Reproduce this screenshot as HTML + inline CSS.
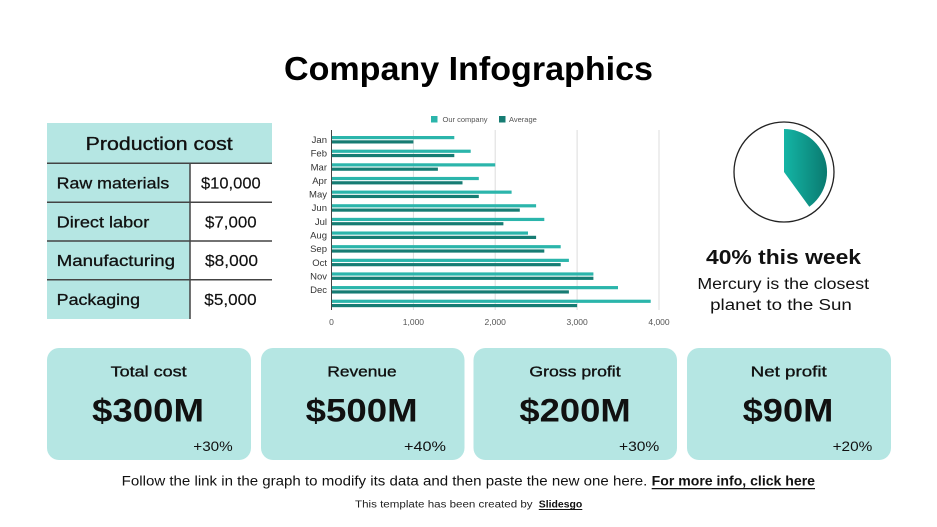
<!DOCTYPE html>
<html>
<head>
<meta charset="utf-8">
<style>
  html,body{margin:0;padding:0;background:#fff;}
  svg{display:block;}
  text{font-family:"Liberation Sans",Arial,sans-serif;}
</style>
</head>
<body>
<svg width="937" height="527" viewBox="0 0 937 527" xmlns="http://www.w3.org/2000/svg">
  <defs>
    <linearGradient id="pg" x1="0" y1="0" x2="1" y2="0">
      <stop offset="0" stop-color="#14b5a5"/>
      <stop offset="1" stop-color="#0a7a70"/>
    </linearGradient>
  </defs>
  <rect width="937" height="527" fill="#ffffff"/>

  <!-- Title -->
  <text x="284" y="80" font-size="33" font-weight="bold" fill="#000" textLength="369" lengthAdjust="spacingAndGlyphs">Company Infographics</text>

  <!-- Table -->
  <rect x="47" y="123" width="225" height="40" fill="#b5e6e3"/>
  <rect x="47" y="163" width="143" height="156" fill="#b5e6e3"/>
  <text x="159.2" y="150" font-size="18" text-anchor="middle" fill="#111" stroke="#111" stroke-width="0.35" textLength="147" lengthAdjust="spacingAndGlyphs">Production cost</text>
  <g stroke="#444" stroke-width="1.5">
    <line x1="47" y1="163.3" x2="272" y2="163.3"/>
    <line x1="47" y1="202.3" x2="272" y2="202.3"/>
    <line x1="47" y1="241" x2="272" y2="241"/>
    <line x1="47" y1="279.8" x2="272" y2="279.8"/>
    <line x1="190" y1="163" x2="190" y2="319"/>
  </g>
  <g font-size="16" fill="#111" stroke="#111" stroke-width="0.3">
    <text x="56.7" y="188.3" textLength="112.6" lengthAdjust="spacingAndGlyphs">Raw materials</text>
    <text x="56.7" y="227.3" textLength="92.6" lengthAdjust="spacingAndGlyphs">Direct labor</text>
    <text x="56.7" y="265.8" textLength="118.3" lengthAdjust="spacingAndGlyphs">Manufacturing</text>
    <text x="56.7" y="305" textLength="83.3" lengthAdjust="spacingAndGlyphs">Packaging</text>
  </g>
  <g font-size="16" fill="#111" stroke="#111" stroke-width="0.15">
    <text x="201" y="188.3" textLength="59.7" lengthAdjust="spacingAndGlyphs">$10,000</text>
    <text x="205" y="227.3" textLength="51.7" lengthAdjust="spacingAndGlyphs">$7,000</text>
    <text x="205" y="265.8" textLength="53" lengthAdjust="spacingAndGlyphs">$8,000</text>
    <text x="204.3" y="305" textLength="52.4" lengthAdjust="spacingAndGlyphs">$5,000</text>
  </g>

  <!-- Chart -->
  <rect x="431" y="116" width="6.5" height="6.5" fill="#2bb5ab"/>
  <text x="442.5" y="121.8" font-size="7.5" fill="#555">Our company</text>
  <rect x="499" y="116" width="6.5" height="6.5" fill="#167c73"/>
  <text x="509" y="121.8" font-size="7.5" fill="#555">Average</text>

  <g stroke="#dddddd" stroke-width="1">
    <line x1="413.4" y1="130" x2="413.4" y2="310"/>
    <line x1="495.2" y1="130" x2="495.2" y2="310"/>
    <line x1="577.1" y1="130" x2="577.1" y2="310"/>
    <line x1="659" y1="130" x2="659" y2="310"/>
  </g>

  <g fill="#2bb5ab">
    <rect x="331.5" y="136" width="122.8" height="3.2"/>
    <rect x="331.5" y="149.64" width="139.2" height="3.2"/>
    <rect x="331.5" y="163.28" width="163.7" height="3.2"/>
    <rect x="331.5" y="176.92" width="147.3" height="3.2"/>
    <rect x="331.5" y="190.56" width="180.1" height="3.2"/>
    <rect x="331.5" y="204.2" width="204.6" height="3.2"/>
    <rect x="331.5" y="217.84" width="212.8" height="3.2"/>
    <rect x="331.5" y="231.48" width="196.5" height="3.2"/>
    <rect x="331.5" y="245.12" width="229.2" height="3.2"/>
    <rect x="331.5" y="258.76" width="237.4" height="3.2"/>
    <rect x="331.5" y="272.4" width="261.9" height="3.2"/>
    <rect x="331.5" y="286.04" width="286.5" height="3.2"/>
    <rect x="331.5" y="299.68" width="319.2" height="3.2"/>
  </g>
  <g fill="#167c73">
    <rect x="331.5" y="140.3" width="81.9" height="3.2"/>
    <rect x="331.5" y="153.94" width="122.8" height="3.2"/>
    <rect x="331.5" y="167.58" width="106.4" height="3.2"/>
    <rect x="331.5" y="181.22" width="131.0" height="3.2"/>
    <rect x="331.5" y="194.86" width="147.3" height="3.2"/>
    <rect x="331.5" y="208.5" width="188.3" height="3.2"/>
    <rect x="331.5" y="222.14" width="171.9" height="3.2"/>
    <rect x="331.5" y="235.78" width="204.6" height="3.2"/>
    <rect x="331.5" y="249.42" width="212.8" height="3.2"/>
    <rect x="331.5" y="263.06" width="229.2" height="3.2"/>
    <rect x="331.5" y="276.7" width="261.9" height="3.2"/>
    <rect x="331.5" y="290.34" width="237.4" height="3.2"/>
    <rect x="331.5" y="303.98" width="245.6" height="3.2"/>
  </g>
  <line x1="331.5" y1="130" x2="331.5" y2="310" stroke="#444" stroke-width="1"/>

  <g font-size="9.5" fill="#333" text-anchor="end">
    <text x="327" y="143">Jan</text>
    <text x="327" y="156.64">Feb</text>
    <text x="327" y="170.28">Mar</text>
    <text x="327" y="183.92">Apr</text>
    <text x="327" y="197.56">May</text>
    <text x="327" y="211.2">Jun</text>
    <text x="327" y="224.84">Jul</text>
    <text x="327" y="238.48">Aug</text>
    <text x="327" y="252.12">Sep</text>
    <text x="327" y="265.76">Oct</text>
    <text x="327" y="279.4">Nov</text>
    <text x="327" y="293.04">Dec</text>
  </g>
  <g font-size="8.5" fill="#555" text-anchor="middle">
    <text x="331.5" y="325">0</text>
    <text x="413.4" y="325">1,000</text>
    <text x="495.2" y="325">2,000</text>
    <text x="577.1" y="325">3,000</text>
    <text x="659" y="325">4,000</text>
  </g>

  <!-- Pie -->
  <circle cx="784" cy="172" r="50" fill="#fff" stroke="#222" stroke-width="1.3"/>
  <path d="M784,172 L784,129 A43,43 0 0 1 809.3,206.8 Z" fill="url(#pg)"/>
  <text x="706" y="264" font-size="20" font-weight="bold" fill="#111" textLength="155" lengthAdjust="spacingAndGlyphs">40% this week</text>
  <text x="783.2" y="289" font-size="15.5" text-anchor="middle" fill="#111" textLength="171.7" lengthAdjust="spacingAndGlyphs">Mercury is the closest</text>
  <text x="781" y="310" font-size="15.5" text-anchor="middle" fill="#111" textLength="141.7" lengthAdjust="spacingAndGlyphs">planet to the Sun</text>

  <!-- Cards -->
  <g fill="#b5e6e3">
    <rect x="47" y="348" width="204" height="112" rx="12"/>
    <rect x="261" y="348" width="203.5" height="112" rx="12"/>
    <rect x="473.5" y="348" width="203.5" height="112" rx="12"/>
    <rect x="687" y="348" width="204" height="112" rx="12"/>
  </g>
  <g font-size="15" fill="#111" stroke="#111" stroke-width="0.35" text-anchor="middle">
    <text x="148.7" y="376.7" textLength="76" lengthAdjust="spacingAndGlyphs">Total cost</text>
    <text x="362" y="376.7" textLength="69.3" lengthAdjust="spacingAndGlyphs">Revenue</text>
    <text x="575" y="376.7" textLength="91.3" lengthAdjust="spacingAndGlyphs">Gross profit</text>
    <text x="788.7" y="376.7" textLength="76" lengthAdjust="spacingAndGlyphs">Net profit</text>
  </g>
  <g font-size="32" font-weight="bold" fill="#111" text-anchor="middle">
    <text x="148" y="421.7" textLength="112" lengthAdjust="spacingAndGlyphs">$300M</text>
    <text x="361.7" y="421.7" textLength="112" lengthAdjust="spacingAndGlyphs">$500M</text>
    <text x="575" y="421.7" textLength="111.3" lengthAdjust="spacingAndGlyphs">$200M</text>
    <text x="788" y="421.7" textLength="90.7" lengthAdjust="spacingAndGlyphs">$90M</text>
  </g>
  <g font-size="14" fill="#111" text-anchor="end">
    <text x="232.7" y="451" textLength="39.4" lengthAdjust="spacingAndGlyphs">+30%</text>
    <text x="446" y="451" textLength="42" lengthAdjust="spacingAndGlyphs">+40%</text>
    <text x="659.3" y="451" textLength="40.3" lengthAdjust="spacingAndGlyphs">+30%</text>
    <text x="872.3" y="451" textLength="39.7" lengthAdjust="spacingAndGlyphs">+20%</text>
  </g>

  <!-- Footer -->
  <text x="121.7" y="485.7" font-size="13.5" fill="#111" textLength="525.6" lengthAdjust="spacingAndGlyphs">Follow the link in the graph to modify its data and then paste the new one here.</text>
  <text x="651.7" y="485.7" font-size="13.5" font-weight="bold" fill="#111" textLength="163.3" lengthAdjust="spacingAndGlyphs">For more info, click here</text>
  <line x1="651.7" y1="488.6" x2="815" y2="488.6" stroke="#111" stroke-width="1.2"/>
  <text x="355" y="507.3" font-size="10" fill="#222" textLength="177.6" lengthAdjust="spacingAndGlyphs">This template has been created by</text>
  <text x="538.8" y="507.3" font-size="10" font-weight="bold" fill="#111" textLength="43.5" lengthAdjust="spacingAndGlyphs">Slidesgo</text>
  <line x1="538.8" y1="509.5" x2="582.3" y2="509.5" stroke="#111" stroke-width="1"/>
</svg>
</body>
</html>
